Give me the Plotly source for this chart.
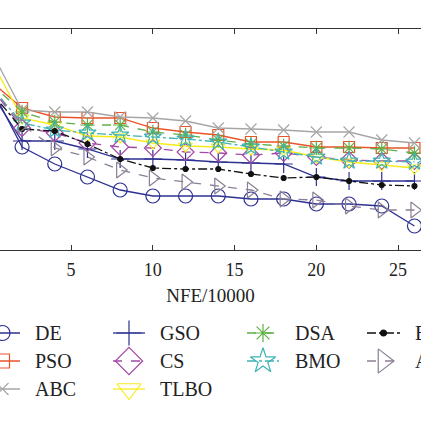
import plotly.graph_objects as go

nfe = [0, 2, 4, 6, 8, 10, 12, 14, 16, 18, 20, 22, 24, 26]
de = [166, 103, 86, 73, 60, 54, 54, 54, 51, 51, 46, 46, 44, 24]
pso = [170, 142, 133, 132, 132, 122, 118, 115, 108, 108, 103, 103, 102, 102]
abc = [202, 140, 138, 138, 133, 132, 129, 122, 121, 120, 118, 118, 110, 107]
gso = [160, 109, 109, 101, 91, 91, 90, 88, 87, 86, 73, 69, 69, 69]
cs = [165, 122, 117, 107, 103, 102, 98, 97, 95, 97, 93, 90, 89, 89]
tlbo = [193, 132, 125, 114, 113, 107, 104, 103, 101, 100, 93, 88, 85, 82]
dsa = [168, 138, 128, 125, 125, 118, 115, 110, 106, 104, 102, 102, 101, 97]
bmo = [165, 127, 120, 117, 115, 113, 111, 108, 103, 98, 93, 89, 89, 88]
eo = [160, 121, 119, 106, 91, 82, 81, 81, 76, 72, 73, 69, 65, 64]
aeo = [165, 125, 102, 93, 80, 72, 68, 64, 60, 51, 50, 44, 40, 40]

x_ticks = [5, 10, 15, 20, 25]

# name, values, colour, dash, symbol, marker size (plot), marker size (legend)
series = [
    ("DE", de, "#2E3192", "solid", "circle-open", 14, 15),
    ("PSO", pso, "#E8542A", "solid", "square-open", 11, 14),
    ("ABC", abc, "#A6A6A6", "solid", "x-thin-open", 11, 12),
    ("GSO", gso, "#2E3192", "solid", "cross-thin-open", 13, 18),
    ("CS", cs, "#A349A4", "dash", "diamond-open", 13, 21),
    ("TLBO", tlbo, "#F7EC1A", "solid", "triangle-down-open", 12, 21),
    ("DSA", dsa, "#5DB045", "dash", "asterisk-open", 12, 15),
    ("BMO", bmo, "#3DB3B5", "dashdot", "star-open", 13, 19),
    ("EO", eo, "#111111", "dashdot", "circle", 5, 6),
    ("AEO", aeo, "#8C7F94", "dash", "triangle-right-open", 14, 21),
]

# legend layout (pixel units on an overlay axis)
leg_cols = [(-15, 20, 33), (113, 145, 158), (247, 279, 293), (367, 400, 413)]
leg_rows = [333, 361, 389]
leg_slots = [(0, 0), (0, 1), (0, 2), (1, 0), (1, 1), (1, 2), (2, 0), (2, 1), (3, 0), (3, 1)]

fig = go.Figure()
for name, ys, col, dash, sym, sz, lsz in series:
    fig.add_trace(go.Scatter(
        x=nfe, y=ys, name=name, mode="lines+markers", showlegend=False,
        line=dict(color=col, width=1.3, dash=dash),
        marker=dict(symbol=sym, size=sz, color=col, line=dict(color=col, width=1.2)),
        xaxis="x", yaxis="y",
    ))

font_family = "Liberation Serif"
for (name, ys, col, dash, sym, sz, lsz), (ci, ri) in zip(series, leg_slots):
    x0, x1, xt = leg_cols[ci]
    yr = leg_rows[ri]
    fig.add_trace(go.Scatter(
        x=[x0, x1], y=[yr, yr], mode="lines", showlegend=False, hoverinfo="skip",
        line=dict(color=col, width=1.3, dash=dash), xaxis="x2", yaxis="y2",
    ))
    fig.add_trace(go.Scatter(
        x=[(x0 + x1) / 2], y=[yr], mode="markers", showlegend=False, hoverinfo="skip",
        marker=dict(symbol=sym, size=lsz, color=col, line=dict(color=col, width=1.2)),
        xaxis="x2", yaxis="y2",
    ))
    fig.add_annotation(x=xt, y=yr, xref="x2", yref="y2", text=name, showarrow=False,
                       xanchor="left", yanchor="middle",
                       font=dict(family=font_family, size=20, color="#222222"))

fig.update_layout(
    width=421, height=421,
    margin=dict(l=0, r=0, t=29, b=0),
    paper_bgcolor="white", plot_bgcolor="rgba(0,0,0,0)",
    showlegend=False,
    xaxis=dict(range=[0.65, 26.4], domain=[0, 1], anchor="y", tickvals=x_ticks,
               ticks="inside", ticklen=5, tickcolor="#333", showline=True,
               linecolor="#333", linewidth=1, mirror="ticks", showgrid=False,
               zeroline=False, ticklabelstandoff=3,
               title=dict(text="NFE/10000", font=dict(family=font_family, size=19, color="#222"),
                          standoff=10),
               tickfont=dict(family=font_family, size=18, color="#222")),
    yaxis=dict(range=[0, 221], domain=[171 / 392, 1], anchor="x", showline=False,
               showticklabels=False, ticks="", showgrid=False, zeroline=False),
    xaxis2=dict(range=[0, 421], domain=[0, 1], anchor="y2", visible=False,
                showgrid=False, zeroline=False),
    yaxis2=dict(range=[421, 29], domain=[0, 1], anchor="x2", visible=False,
                showgrid=False, zeroline=False),
)

fig.write_html("out.html")
